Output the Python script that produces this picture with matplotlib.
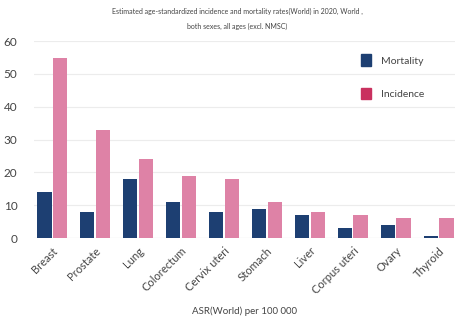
import matplotlib
matplotlib.use("Agg")

import matplotlib.pyplot as plt
import matplotlib.patches as mpatches
import numpy as np

plt.rcParams["font.family"] = ["Lato", "DejaVu Sans"]

# ---------- Data ----------

sites = ["Breast", "Prostate", "Lung", "Colorectum", "Cervix uteri",
         "Stomach", "Liver", "Corpus uteri", "Ovary", "Thyroid"]
mortality = [14, 8, 18, 11, 8, 9, 7, 3, 4, 0.8]
incidence = [55, 33, 24, 19, 18, 11, 8, 7, 6, 6]

mort_color = "#1d3f72"
inc_color = "#de82a6"
inc_legend_color = "#c9315f"
text_color = "#444444"

# ---------- Figure ----------

fig = plt.figure(figsize=(4.74, 3.34), dpi=100)
ax = fig.add_axes([0.072, 0.287, 0.888, 0.59])

x = np.arange(len(sites))
w = 0.33
gap = 0.03
ax.bar(x - w / 2 - gap / 2, mortality, width=w, color=mort_color, zorder=3)
ax.bar(x + w / 2 + gap / 2, incidence, width=w, color=inc_color, zorder=3)

ax.set_xlim(-0.42, 9.38)
ax.set_ylim(0, 60)
ax.set_yticks(range(0, 61, 10))
ax.yaxis.grid(True, color="#ececec", linewidth=0.8, zorder=0)
ax.axhline(0, color="#dddddd", linewidth=0.8, zorder=2)

for s in ax.spines.values():
    s.set_visible(False)

ax.tick_params(axis="both", length=0, colors=text_color)
ax.tick_params(axis="y", labelsize=8.5, pad=12)
ax.set_xticks(x)
ax.set_xticklabels(sites, rotation=45, ha="right", rotation_mode="anchor",
                   fontsize=8, color=text_color)
ax.tick_params(axis="x", pad=5)

ax.set_xlabel("ASR(World) per 100 000", fontsize=7, color=text_color, labelpad=8)

fig.text(0.5, 0.967, "Estimated age-standardized incidence and mortality rates(World) in 2020, World ,",
         ha="center", va="center", fontsize=5, color=text_color)
fig.text(0.5, 0.922, "both sexes, all ages (excl. NMSC)",
         ha="center", va="center", fontsize=5, color=text_color)

handles = [mpatches.Patch(color=mort_color, label="Mortality"),
           mpatches.Patch(color=inc_legend_color, label="Incidence")]
ax.legend(handles=handles, loc="upper right", bbox_to_anchor=(0.95, 0.98),
          frameon=False, fontsize=7.5, labelspacing=2.1, handlelength=1.0,
          handleheight=1.3, handletextpad=1.0, labelcolor=text_color)

fig.savefig("out.png", dpi=100)
